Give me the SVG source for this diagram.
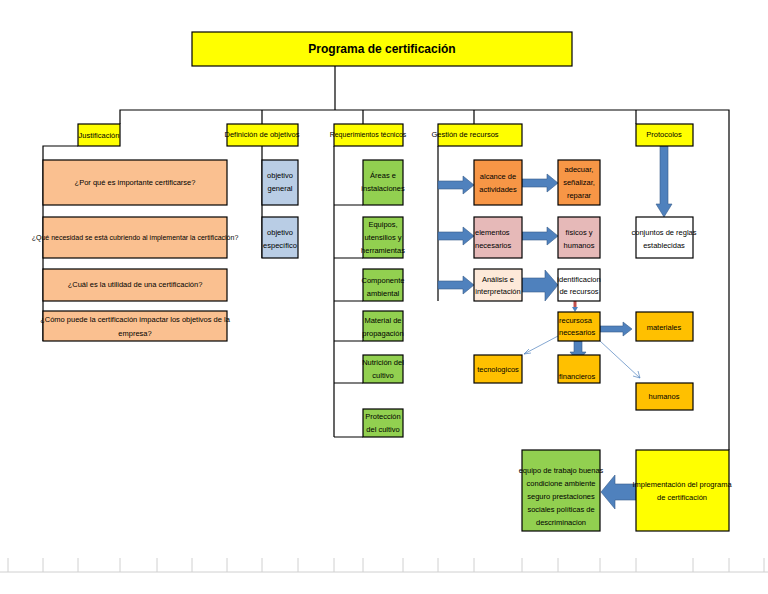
<svg xmlns="http://www.w3.org/2000/svg" width="768" height="594" viewBox="0 0 768 594">
<style>
text{font-family:"Liberation Sans",Arial,sans-serif;font-size:7.5px;fill:#000;text-anchor:middle}
.b{stroke:#000;stroke-width:1.2}
.y{fill:#ffff00}.o{fill:#fac090}.bl{fill:#b9cde5}.g{fill:#92d050}.or{fill:#f79646}.pk{fill:#e6b9b8}.pe{fill:#fde9d9}.w{fill:#fff}.am{fill:#ffc000}
.ln{stroke:#000;stroke-width:1.2;fill:none}
.ar{fill:#4f81bd;stroke:#385d8a;stroke-width:0.6}
.grid{stroke:#d0d0d0;stroke-width:1}
</style>
<rect width="768" height="594" fill="#fff"/>
<g id="grid" class="grid">
<line x1="0" y1="572" x2="768" y2="572"/>
<path d="M8 558V572M43 558V572M78 558V572M120 558V572M157 558V572M192 558V572M227 558V572M262 558V572M298 558V572M334 558V572M363 558V572M403 558V572M438 558V572M474 558V572M522 558V572M558 558V572M600 558V572M636 558V572M693 558V572M729 558V572M764 558V572"/>
</g>
<g id="connectors">
<path class="ln" d="M335 66V110M120 124V110H729V450M262 110V124M363 110V124M474 110V124M636 110V124"/>
<path class="ln" d="M78 146H43V341"/>
<path class="ln" d="M262 146V258"/>
<path class="ln" d="M334 146V437M334 205H363M334 258H363M334 301H363M334 341H363M334 383H363M334 437H363"/>
<path class="ln" d="M438 146V301"/>
<path class="ar" d="M438 181H463V176L474 185L463 194V189H438Z"/>
<path class="ar" d="M522 179H547V174L558 183L547 192V187H522Z"/>
<path class="ar" d="M438 232H463V227L474 236L463 245V240H438Z"/>
<path class="ar" d="M522 232H547V227L558 236L547 245V240H522Z"/>
<path class="ar" d="M438 281H463V276L474 285L463 294V289H438Z"/>
<path class="ar" d="M522 278H545V270L558 285L545 301V292H522Z"/>
<path class="ar" d="M660 146H668V204H672L664 217L656 204H660Z"/>
<path d="M575 301V308" stroke="#c0504d" stroke-width="3"/>
<path d="M572 307H578L575 312Z" fill="#4f81bd"/>
<path class="ar" d="M600 326H623V322L632 329L623 336V332H600Z"/>
<path class="ar" d="M574 341H582V352H586L578 362L570 352H574Z"/>
<line x1="558" y1="336" x2="524" y2="354" stroke="#4f81bd" stroke-width="0.7"/>
<path d="M524 354L529 349M524 354L531 353" stroke="#4f81bd" stroke-width="0.7" fill="none"/>
<line x1="600" y1="341" x2="640" y2="378" stroke="#4f81bd" stroke-width="0.7"/>
<path d="M640 378L638 371M640 378L633 376" stroke="#4f81bd" stroke-width="0.7" fill="none"/>
<path class="ar" d="M636 484H615V475L601 492L615 509V500H636Z"/>
</g>
<g id="title"><rect class="b y" x="192" y="32" width="380" height="34"/><text x="382" y="53" style="font-size:12px;font-weight:bold">Programa de certificación</text></g>
<g id="justificacion"><rect class="b y" x="78" y="124" width="42" height="22"/><text x="99" y="138">Justificación</text></g>
<g id="definicion"><rect class="b y" x="227" y="124" width="71" height="22"/><text x="262" y="137">Definición de objetivos</text></g>
<g id="requerimientos"><rect class="b y" x="334" y="124" width="69" height="22"/><text x="368" y="137" style="font-size:7px">Requerimientos técnicos</text></g>
<g id="gestion"><rect class="b y" x="438" y="124" width="84" height="22"/><text x="465" y="137">Gestión de recursos</text></g>
<g id="protocolos"><rect class="b y" x="636" y="124" width="57" height="22"/><text x="664" y="137">Protocolos</text></g>
<g id="q1"><rect class="b o" x="43" y="160" width="184" height="45"/><text x="135" y="185">¿Por qué es importante certificarse?</text></g>
<g id="q2"><rect class="b o" x="43" y="217" width="184" height="41"/><text x="135" y="240" style="font-size:7px">¿Qué necesidad se está cubriendo al implementar la certificación?</text></g>
<g id="q3"><rect class="b o" x="43" y="269" width="184" height="32"/><text x="135" y="287">¿Cuál es la utilidad de una certificación?</text></g>
<g id="q4"><rect class="b o" x="43" y="311" width="184" height="30"/><text x="135" y="322">¿Cómo puede la certificación impactar los objetivos de la</text><text x="135" y="336">empresa?</text></g>
<g id="obj1"><rect class="b bl" x="262" y="160" width="36" height="45"/><text x="280" y="178">objetivo</text><text x="280" y="191">general</text></g>
<g id="obj2"><rect class="b bl" x="262" y="217" width="36" height="41"/><text x="280" y="235">objetivo</text><text x="280" y="248">específico</text></g>
<g id="r1"><rect class="b g" x="363" y="160" width="40" height="45"/><text x="383" y="178">Áreas e</text><text x="383" y="191">instalaciones</text></g>
<g id="r2"><rect class="b g" x="363" y="217" width="40" height="41"/><text x="383" y="227">Equipos,</text><text x="383" y="240">utensilios y</text><text x="383" y="253">herramientas</text></g>
<g id="r3"><rect class="b g" x="363" y="269" width="40" height="32"/><text x="383" y="283">Componente</text><text x="383" y="296">ambiental</text></g>
<g id="r4"><rect class="b g" x="363" y="311" width="40" height="30"/><text x="383" y="323">Material de</text><text x="383" y="336">propagación</text></g>
<g id="r5"><rect class="b g" x="363" y="355" width="40" height="28"/><text x="383" y="365">Nutrición del</text><text x="383" y="378">cultivo</text></g>
<g id="r6"><rect class="b g" x="363" y="409" width="40" height="28"/><text x="383" y="419">Protección</text><text x="383" y="432">del cultivo</text></g>
<g id="alcance"><rect class="b or" x="474" y="160" width="48" height="45"/><text x="498" y="179">alcance de</text><text x="498" y="192">actividades</text></g>
<g id="adecuar"><rect class="b or" x="558" y="160" width="42" height="45"/><text x="579" y="172">adecuar,</text><text x="579" y="185">señalizar,</text><text x="579" y="198">reparar</text></g>
<g id="elementos"><rect class="b pk" x="474" y="217" width="48" height="41"/><text x="475" y="235" style="text-anchor:start">elementos</text><text x="475" y="248" style="text-anchor:start">necesarios</text></g>
<g id="fisicos"><rect class="b pk" x="558" y="217" width="42" height="41"/><text x="579" y="235">físicos y</text><text x="579" y="248">humanos</text></g>
<g id="analisis"><rect class="b pe" x="474" y="269" width="48" height="32"/><text x="498" y="282">Análisis e</text><text x="498" y="294">interpretación</text></g>
<g id="identificacion"><rect class="b w" x="558" y="269" width="42" height="32"/><text x="579" y="282">identificacion</text><text x="579" y="294">de recursos</text></g>
<g id="conjuntos"><rect class="b w" x="636" y="217" width="57" height="41"/><text x="664" y="235">conjuntos de reglas</text><text x="664" y="248">establecidas</text></g>
<g id="recursosa"><rect class="b am" x="558" y="312" width="42" height="29"/><text x="559" y="323" style="text-anchor:start">recursosa</text><text x="559" y="335" style="text-anchor:start">necesarios</text></g>
<g id="materiales"><rect class="b am" x="636" y="312" width="57" height="29"/><text x="664" y="330">materiales</text></g>
<g id="tecnologicos"><rect class="b am" x="474" y="355" width="48" height="28"/><text x="498" y="372">tecnologicos</text></g>
<g id="financieros"><rect class="b am" x="558" y="355" width="42" height="28"/><text x="559" y="379" style="text-anchor:start">financieros</text></g>
<g id="humanos"><rect class="b am" x="636" y="383" width="57" height="27"/><text x="664" y="399">humanos</text></g>
<g id="implementacion"><rect class="b y" x="636" y="450" width="93" height="81"/><text x="682" y="487">Implementación del programa</text><text x="682" y="500">de certificación</text></g>
<g id="equipo"><rect class="b g" x="522" y="450" width="78" height="81"/><text x="561" y="473">equipo de trabajo    buenas</text><text x="561" y="486">condicione  ambiente</text><text x="561" y="499">seguro  prestaciones</text><text x="561" y="512">sociales  políticas de</text><text x="561" y="525">descriminacion</text></g>
</svg>
